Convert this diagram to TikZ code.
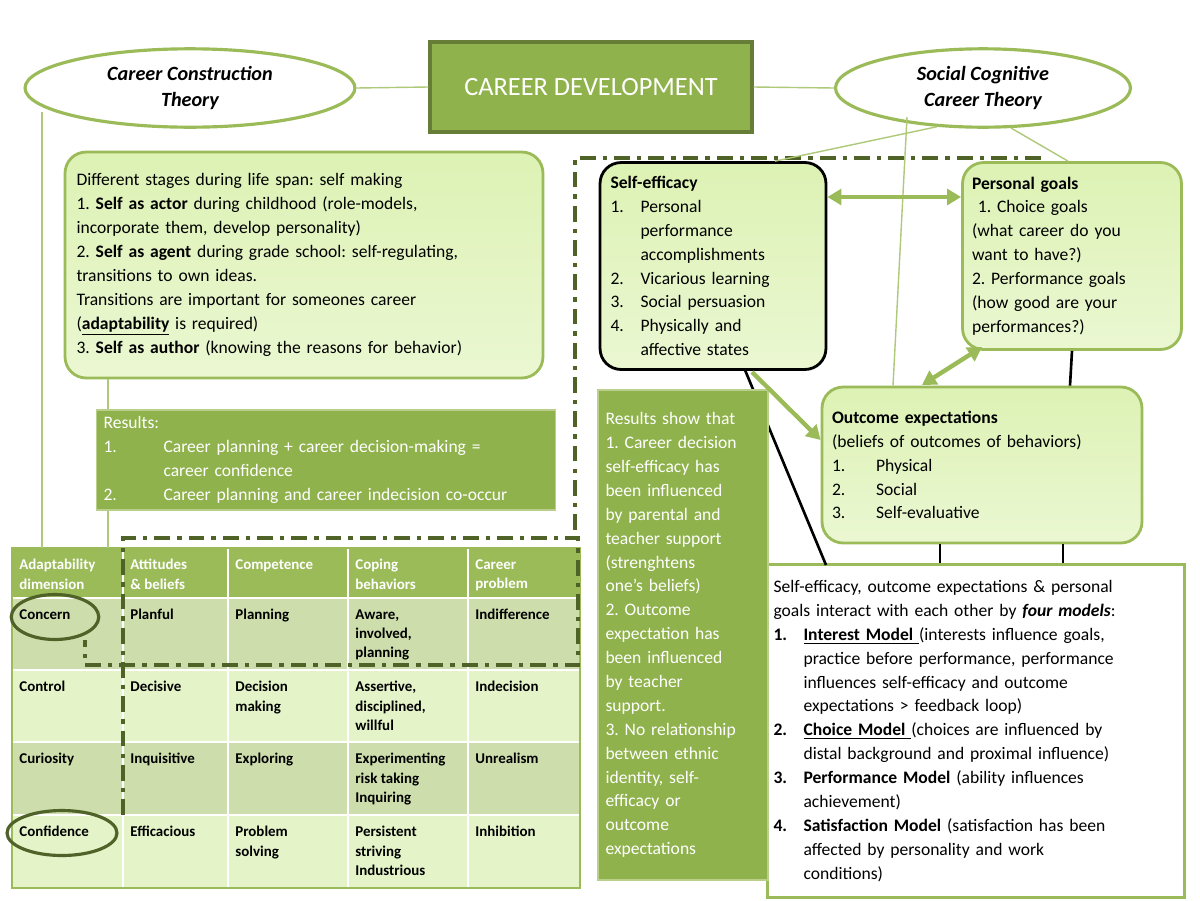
\documentclass[tikz,border=0pt]{standalone}
\usepackage{fontspec}
\setmainfont{Carlito}
\frenchspacing
\usetikzlibrary{shapes.geometric,arrows,arrows.meta,positioning}
\definecolor{cgreen}{HTML}{9BBB59}
\definecolor{cdark}{HTML}{4F6228}
\definecolor{cfill}{HTML}{8FB24C}
\definecolor{clight}{HTML}{DDF2B4}
\definecolor{crowA}{HTML}{CDDDAC}
\definecolor{crowB}{HTML}{E4F3C8}
\newcommand{\itm}[2]{\makebox[#1][l]{#2}}
\newcommand{\ind}[1]{\hspace*{#1}}
\tikzset
{
    theory/.style = {ellipse, draw=cgreen, line width=1.8pt, fill=white, align=center, font=\bfseries\itshape\fontsize{11.5}{15}\selectfont},
    softbox/.style = {rectangle, rounded corners=12pt, draw=cgreen, line width=1.6pt, top color=clight, bottom color=clight!60!white, align=left, font=\fontsize{10}{13.6}\selectfont},
    resbox/.style = {rectangle, draw=cgreen!70!white, line width=1pt, fill=cfill, text=white, align=left, font=\fontsize{10}{13.6}\selectfont},
    cell/.style = {rectangle, draw=none, anchor=north west, align=left, inner sep=4pt, font=\bfseries\fontsize{8.5}{11}\selectfont},
    link/.style = {cgreen!80!white, line width=0.8pt},
    blink/.style = {black, line width=1.5pt},
    arrow/.style = {cgreen, line width=2.5pt, -{Triangle[length=8pt,width=9pt]}},
    darrow/.style = {cgreen, line width=2.5pt, {Triangle[length=8pt,width=9pt]}-{Triangle[length=8pt,width=9pt]}},
    dashdot/.style = {cdark, line width=2pt, dash pattern=on 9pt off 4pt on 2.5pt off 4pt},
    mark ring/.style = {ellipse, draw=cdark, line width=1.8pt, minimum width=#1, minimum height=0.9cm}
}
\begin{document}
\begin{tikzpicture}[x=0.02cm, y=-0.02cm]
	\path[fill=white] (0,0) rectangle (1200,900);
	\useasboundingbox (0,0) rectangle (1200,900);

	% top row
	\node (title) [rectangle, draw=cdark!70!cgreen, line width=2pt, fill=cfill, text=white, minimum width=6.44cm, minimum height=1.8cm, font=\fontsize{15}{18}\selectfont] at (591,87) {CAREER DEVELOPMENT};
	\node (cct) [theory, minimum width=6.6cm, minimum height=1.4cm] at (190,88) {Career Construction\\Theory};
	\node (scct) [theory, minimum width=5.9cm, minimum height=1.4cm] at (983,88) {Social Cognitive\\Career Theory};
	\draw [link] (cct.east) -- (title.west);
	\draw [link] (title.east) -- (scct.west);

	% left side
	\node (stage) [softbox, minimum width=9.56cm, minimum height=4.52cm, text width=9.1cm] at (304,265) {Different stages during life span: self making\\
	1. \textbf{Self as actor} during childhood (role-models,\\ incorporate them, develop personality)\\
	2. \textbf{Self as agent} during grade school: self-regulating,\\ transitions to own ideas.\\
	Transitions are important for someones career\\ (\underline{\textbf{adaptability}} is required)\\
	3. \textbf{Self as author} (knowing the reasons for behavior)};
	\node (res) [resbox, minimum width=9.18cm, minimum height=2cm, text width=8.9cm] at (326,460) {Results:\\
	\itm{1.2cm}{1.}Career planning + career decision-making =\\ \ind{1.2cm}career confidence\\
	\itm{1.2cm}{2.}Career planning and career indecision co-occur};

	% table
	\foreach \r/\y/\h/\c in {0/548/50/cgreen, 1/598/72/crowA, 2/670/72/crowB, 3/742/73/crowA, 4/815/73/crowB}
	{
		\foreach \k/\x/\w in {0/12/111, 1/123/105, 2/228/120, 3/348/120, 4/468/112}
		{
			\path [fill=\c, draw=white, line width=1pt] (\x,\y) rectangle ++(\w,\h);
		}
	}
	\draw [cgreen, line width=1pt] (12,548) rectangle (580,888);
	\foreach \k/\x/\t in {0/12/{Adaptability\\ dimension}, 1/123/{Attitudes\\ \& beliefs}, 2/228/{Competence}, 3/348/{Coping\\ behaviors}, 4/468/{Career\\ problem}}
		\node (h\k) [cell, text=white] at (\x,552) {\t};
	\foreach \r/\y/\a/\b/\c/\d/\e in {1/602/Concern/Planful/Planning/{Aware,\\ involved,\\ planning}/Indifference, 2/674/Control/Decisive/{Decision\\ making}/{Assertive,\\ disciplined,\\ willful}/Indecision, 3/746/Curiosity/Inquisitive/Exploring/{Experimenting\\ risk taking\\ Inquiring}/Unrealism, 4/819/Confidence/Efficacious/{Problem\\ solving}/{Persistent\\ striving\\ Industrious}/Inhibition}
	{
		\node (t\r a) [cell] at (12,\y) {\a};
		\node (t\r b) [cell] at (123,\y) {\b};
		\node (t\r c) [cell] at (228,\y) {\c};
		\node (t\r d) [cell] at (348,\y) {\d};
		\node (t\r e) [cell] at (468,\y) {\e};
	}
	\node (ring1) [mark ring=1.75cm] at (55,617) {};
	\node (ring2) [mark ring=2.2cm] at (62,833) {};

	\draw [link] (42,112) -- (42,548);
	\draw [link] (stage.south -| 108,0) -- (res.north -| 108,0);
	\draw [link] (res.south -| 108,0) -- (108,548);

	% dash-dot frames
	\draw [dashdot] (123,815) -- (123,538) -- (578,538) -- (578,665) -- (85,665) -- (85,640);
	\draw [dashdot] (575,530) -- (575,158) -- (1048,158);

	% right side
	\node (four) [rectangle, draw=cgreen, line width=1.6pt, fill=white, minimum width=8.34cm, minimum height=6.66cm, text width=8.1cm, align=left, font=\fontsize{10}{13.6}\selectfont] at (976,731) {Self-efficacy, outcome expectations \& personal\\ goals interact with each other by \textbf{\textit{four models}}:\\
	\itm{0.6cm}{\textbf{1.}}\underline{\textbf{Interest Model }}(interests influence goals,\\ \ind{0.6cm}practice before performance, performance\\ \ind{0.6cm}influences self-efficacy and outcome\\ \ind{0.6cm}expectations > feedback loop)\\
	\itm{0.6cm}{\textbf{2.}}\underline{\textbf{Choice Model }}(choices are influenced by\\ \ind{0.6cm}distal background and proximal influence)\\
	\itm{0.6cm}{\textbf{3.}}\textbf{Performance Model} (ability influences\\ \ind{0.6cm}achievement)\\
	\itm{0.6cm}{\textbf{4.}}\textbf{Satisfaction Model} (satisfaction has been\\ \ind{0.6cm}affected by personality and work\\ \ind{0.6cm}conditions)};
	\node (selfeff) [softbox, draw=black, minimum width=4.52cm, minimum height=4.14cm, text width=4.1cm] at (713,266) {\textbf{Self-efficacy}\\
	\itm{0.6cm}{1.}Personal\\ \ind{0.6cm}performance\\ \ind{0.6cm}accomplishments\\
	\itm{0.6cm}{2.}Vicarious learning\\
	\itm{0.6cm}{3.}Social persuasion\\
	\itm{0.6cm}{4.}Physically and\\ \ind{0.6cm}affective states};
	\node (goals) [softbox, minimum width=4.38cm, minimum height=3.74cm, text width=4cm] at (1072,256) {\textbf{Personal goals}\\
	\ 1. Choice goals\\ (what career do you\\ want to have?)\\ 2. Performance goals\\ (how good are your\\ performances?)};
	\node (outcome) [softbox, minimum width=6.4cm, minimum height=3.12cm, text width=6cm] at (982,465) {\textbf{Outcome expectations}\\ (beliefs of outcomes of behaviors)\\
	\itm{0.88cm}{1.}Physical\\ \itm{0.88cm}{2.}Social\\ \itm{0.88cm}{3.}Self-evaluative};
	\draw [blink] (745,370) -- (826,565);
	\node (shows) [resbox, minimum width=3.4cm, minimum height=9.8cm, text width=3.1cm] at (683,635) {Results show that\\ 1. Career decision\\ self-efficacy has\\ been influenced\\ by parental and\\ teacher support\\ (strenghtens\\ one's beliefs)\\ 2. Outcome\\ expectation has\\ been influenced\\ by teacher\\ support.\\ 3. No relationship\\ between ethnic\\ identity, self-\\ efficacy or\\ outcome\\ expectations};

	\draw [link] (scct.220) -- (selfeff.north -| 775,0);
	\draw [link] (907,117) -- (outcome.north -| 893,0);
	\draw [link] (scct.305) -- (goals.north -| 1068,0);
	\draw [blink] (goals.south -| 1072,0) -- (outcome.north -| 1070,0);
	\draw [blink] (outcome.south -| 940,0) -- (four.north -| 940,0);
	\draw [blink] (outcome.south -| 1063,0) -- (four.north -| 1063,0);

	\draw [darrow] (selfeff.east |- 0,197) -- (goals.west |- 0,197);
	\draw [darrow] (982,347) -- (922,385);
	\draw [arrow] (752,372) -- (outcome.west |- 0,440);
\end{tikzpicture}
\end{document}
